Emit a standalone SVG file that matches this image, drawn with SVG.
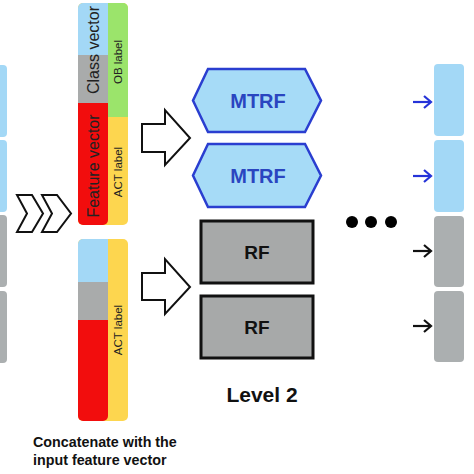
<svg xmlns="http://www.w3.org/2000/svg" width="474" height="474" viewBox="0 0 474 474">
<defs>
<style>
.lb{fill:#a3d8f6}
.gr{fill:#abafb0}
.t{font-family:"Liberation Sans",Arial,sans-serif}
.hex{fill:#a6dbf7;stroke:#2a3ed0;stroke-width:2.5}
.rf{fill:#a7a9a9;stroke:#111;stroke-width:3}
.big{fill:none;stroke:#111;stroke-width:2;stroke-linejoin:miter}
.ab{stroke:#2533d8;stroke-width:2.2;fill:none}
.ak{stroke:#111;stroke-width:2.2;fill:none}
</style>
</defs>
<rect width="474" height="474" fill="#ffffff"/>

<g id="left-bars">
<rect class="lb" x="-23" y="65" width="30" height="72" rx="4"/>
<rect class="lb" x="-23" y="140" width="30" height="72" rx="4"/>
<rect class="gr" x="-23" y="215" width="30" height="72" rx="4"/>
<rect class="gr" x="-23" y="291" width="30" height="72" rx="4"/>
</g>

<g id="chevrons">
<path class="big" d="M17,195 L32,195 L43,213.5 L32,232 L17,232 L27,213.5 Z"/>
<path class="big" d="M42,195 L57,195 L71,213.5 L57,232 L42,232 L52,213.5 Z"/>
</g>

<g id="vector-top">
<rect x="78" y="3" width="50" height="222" rx="5" fill="#fdd64f"/>
<path d="M108,3 H123 A5,5 0 0 1 128,8 V117 H108 Z" fill="#9be46b"/>
<path d="M83,3 H108 V55 H78 V8 A5,5 0 0 1 83,3 Z" fill="#a3d8f6"/>
<rect x="78" y="55" width="30" height="48" fill="#a9abab"/>
<path d="M78,103 H108 V220 A5,5 0 0 1 103,225 H83 A5,5 0 0 1 78,220 Z" fill="#f20d0d"/>
<text class="t" transform="translate(99,50) rotate(-90)" text-anchor="middle" font-size="16" fill="#222">Class vector</text>
<text class="t" transform="translate(99,166) rotate(-90)" text-anchor="middle" font-size="16" fill="#222">Feature vector</text>
<text class="t" transform="translate(122,62) rotate(-90)" text-anchor="middle" font-size="11.5" fill="#222">OB label</text>
<text class="t" transform="translate(122,172) rotate(-90)" text-anchor="middle" font-size="11.5" fill="#222">ACT label</text>
</g>

<g id="vector-bottom">
<rect x="78" y="239" width="50" height="182" rx="5" fill="#fdd64f"/>
<path d="M83,239 H108 V282 H78 V244 A5,5 0 0 1 83,239 Z" fill="#a3d8f6"/>
<rect x="78" y="282" width="30" height="38" fill="#a9abab"/>
<path d="M78,320 H108 V416 A5,5 0 0 1 103,421 H83 A5,5 0 0 1 78,416 Z" fill="#f20d0d"/>
<text class="t" transform="translate(122,330) rotate(-90)" text-anchor="middle" font-size="11.5" fill="#222">ACT label</text>
</g>

<g id="arrow-top">
<path class="big" d="M142,124 H165 V110 L190,138 L165,165 V152 H142 Z"/>
</g>
<g id="arrow-bottom">
<path class="big" d="M142,273 H165 V259 L190,287 L165,314 V300 H142 Z"/>
</g>

<g id="mtrf1">
<path class="hex" d="M208,69 H305 L321,100.5 L305,132 H208 L193,100.5 Z"/>
<text class="t" x="258" y="108" text-anchor="middle" font-size="20" font-weight="bold" fill="#2a45c0">MTRF</text>
</g>
<g id="mtrf2">
<path class="hex" d="M208,144 H305 L321,175.5 L305,207 H208 L193,175.5 Z"/>
<text class="t" x="258" y="183" text-anchor="middle" font-size="20" font-weight="bold" fill="#2a45c0">MTRF</text>
</g>
<g id="rf1">
<rect class="rf" x="201" y="221" width="112" height="62"/>
<text class="t" x="257" y="259" text-anchor="middle" font-size="19" font-weight="bold" fill="#111">RF</text>
</g>
<g id="rf2">
<rect class="rf" x="201" y="296" width="112" height="62"/>
<text class="t" x="257" y="334" text-anchor="middle" font-size="19" font-weight="bold" fill="#111">RF</text>
</g>

<text class="t" x="262" y="402" text-anchor="middle" font-size="21" font-weight="bold" fill="#111">Level 2</text>

<g id="dots" fill="#000">
<circle cx="352" cy="222" r="6"/>
<circle cx="371" cy="222" r="6"/>
<circle cx="391" cy="222" r="6"/>
</g>

<g id="right-bars">
<rect class="lb" x="434" y="64" width="30" height="72" rx="4"/>
<rect class="lb" x="434" y="140" width="30" height="72" rx="4"/>
<rect class="gr" x="434" y="216" width="30" height="71" rx="4"/>
<rect class="gr" x="434" y="291" width="30" height="71" rx="4"/>
</g>

<g id="connectors">
<line class="ab" x1="413" y1="102" x2="431" y2="102"/>
<path class="ab" d="M424,96 L431,102 L424,108"/>
<line class="ab" x1="413" y1="176" x2="431" y2="176"/>
<path class="ab" d="M424,170 L431,176 L424,182"/>
<line class="ak" x1="413" y1="251" x2="431" y2="251"/>
<path class="ak" d="M424,245 L431,251 L424,257"/>
<line class="ak" x1="413" y1="326" x2="431" y2="326"/>
<path class="ak" d="M424,320 L431,326 L424,332"/>
</g>

<g id="caption" class="t" font-size="14.3" font-weight="bold" fill="#111">
<text x="33" y="447">Concatenate with the</text>
<text x="33" y="465">input feature vector</text>
</g>
</svg>
